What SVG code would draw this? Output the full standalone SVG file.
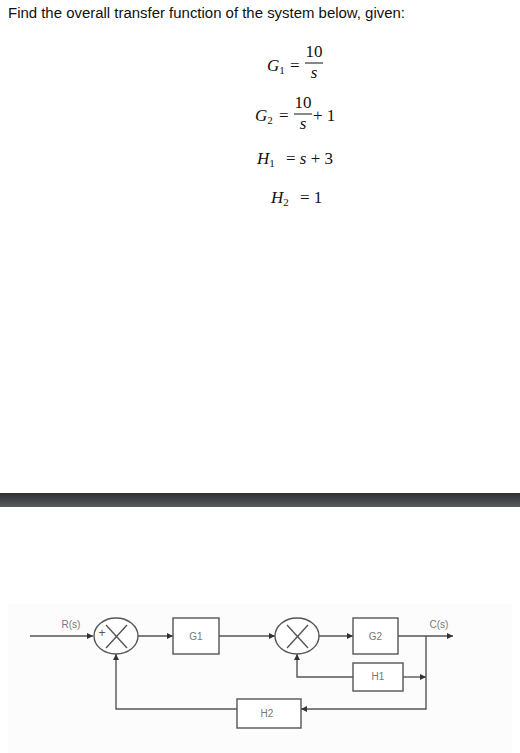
<svg xmlns="http://www.w3.org/2000/svg" width="520" height="753" viewBox="0 0 520 753">
<style>
.title{font-family:"Liberation Sans",Arial,sans-serif;font-size:14px;fill:#111}
.m{font-family:"Liberation Serif","DejaVu Serif",serif;font-size:17px;fill:#111}
.mi{font-style:italic}
.sub{font-size:11px}
.ln{stroke:#555;stroke-width:1.4;fill:none}
.box{stroke:#555;stroke-width:1.4;fill:#fff}
.lbl{font-family:"Liberation Sans",Arial,sans-serif;font-size:10px;fill:#777;text-anchor:middle}
</style>
<defs>
<linearGradient id="bar" x1="0" y1="0" x2="0" y2="1">
<stop offset="0" stop-color="#2e3134"/>
<stop offset="1" stop-color="#575c60"/>
</linearGradient>
<marker id="ar" viewBox="0 0 10 10" refX="10" refY="5" markerWidth="6" markerHeight="6" markerUnits="userSpaceOnUse" orient="auto">
<path d="M0,0 L10,5 L0,10 z" fill="#333"/>
</marker>
</defs>
<rect width="520" height="753" fill="#fff"/>
<text class="title" x="8" y="18" textLength="397" lengthAdjust="spacingAndGlyphs">Find the overall transfer function of the system below, given:</text>
<g id="eq1">
<text class="m mi" x="267" y="71">G<tspan class="sub" dy="3" font-style="normal">1</tspan></text>
<text class="m" x="290" y="71">=</text>
<text class="m" x="314" y="57" text-anchor="middle">10</text>
<line x1="305" y1="63" x2="323" y2="63" stroke="#111" stroke-width="1"/>
<text class="m mi" x="314" y="78" text-anchor="middle">s</text>
</g>
<g id="eq2">
<text class="m mi" x="255" y="121">G<tspan class="sub" dy="3" font-style="normal">2</tspan></text>
<text class="m" x="279" y="121">=</text>
<text class="m" x="303" y="108" text-anchor="middle">10</text>
<line x1="294" y1="114" x2="312" y2="114" stroke="#111" stroke-width="1"/>
<text class="m mi" x="303" y="129" text-anchor="middle">s</text>
<text class="m" x="313" y="121">+ 1</text>
</g>
<g id="eq3">
<text class="m mi" x="257" y="164">H<tspan class="sub" dy="3" font-style="normal">1</tspan></text>
<text class="m" x="286" y="164">= <tspan font-style="italic">s</tspan> + 3</text>
</g>
<g id="eq4">
<text class="m mi" x="271" y="203">H<tspan class="sub" dy="3" font-style="normal">2</tspan></text>
<text class="m" x="300" y="203">= 1</text>
</g>
<rect x="0" y="493" width="520" height="14" fill="url(#bar)"/>
<rect x="8" y="604" width="504" height="149" fill="#fcfcfc"/>
<g id="connectors">
<line class="ln" x1="30" y1="636" x2="93" y2="636" marker-end="url(#ar)"/>
<line class="ln" x1="138" y1="636" x2="173" y2="636" marker-end="url(#ar)"/>
<line class="ln" x1="219" y1="636" x2="275" y2="636" marker-end="url(#ar)"/>
<line class="ln" x1="319" y1="636" x2="353" y2="636" marker-end="url(#ar)"/>
<line class="ln" x1="398" y1="636" x2="453" y2="636" marker-end="url(#ar)"/>
<polyline class="ln" points="426,636 426,709 301,709" marker-end="url(#ar)"/>
<line class="ln" x1="403" y1="677" x2="426" y2="677" marker-end="url(#ar)"/>
<polyline class="ln" points="353,677 297,677 297,654" marker-end="url(#ar)"/>
<polyline class="ln" points="237,709 116,709 116,654" marker-end="url(#ar)"/>
</g>
<g id="rlabel"><text class="lbl" x="71" y="628">R(s)</text></g>
<g id="clabel"><text class="lbl" x="439" y="628">C(s)</text></g>
<g id="sum1">
<ellipse class="box" cx="116" cy="636" rx="22" ry="18"/>
<line class="ln" x1="106" y1="625" x2="127" y2="648"/>
<line class="ln" x1="127" y1="625" x2="106" y2="648"/>
<text x="102" y="637" font-family="Liberation Sans,Arial,sans-serif" font-size="12" fill="#555" text-anchor="middle">+</text>
</g>
<g id="G1">
<rect class="box" x="173" y="618" width="46" height="36"/>
<text class="lbl" x="196" y="640">G1</text>
</g>
<g id="sum2">
<ellipse class="box" cx="297" cy="636" rx="22" ry="18"/>
<line class="ln" x1="287" y1="625" x2="308" y2="648"/>
<line class="ln" x1="308" y1="625" x2="287" y2="648"/>
</g>
<g id="G2">
<rect class="box" x="353" y="618" width="45" height="36"/>
<text class="lbl" x="375.5" y="640">G2</text>
</g>
<g id="H1">
<rect class="box" x="353" y="663" width="50" height="28"/>
<text class="lbl" x="378" y="680">H1</text>
</g>
<g id="H2">
<rect class="box" x="237" y="699" width="64" height="29"/>
<text class="lbl" x="267" y="717">H2</text>
</g>
</svg>
